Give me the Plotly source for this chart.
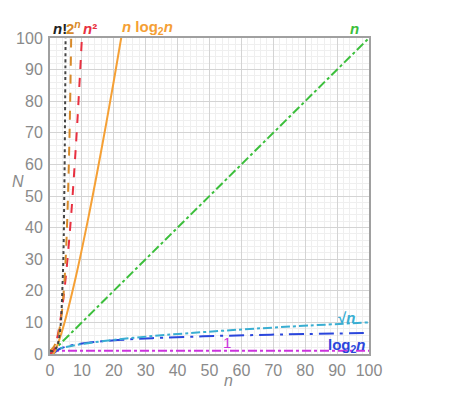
import plotly.graph_objects as go

# Data: sample points (n, N) for each complexity curve
fact_n = [0, 1, 2, 3, 4, 4.5, 5]
fact_N = [1, 1, 2, 6, 24, 52.3, 120]

exp_n = [0, 1, 2, 3, 4, 5, 6, 6.64, 7]
exp_N = [1, 2, 4, 8, 16, 32, 64, 100, 128]

sq_n = [0, 1, 2, 4, 6, 8, 10, 11]
sq_N = [0, 1, 4, 16, 36, 64, 100, 121]

nlog_n = [0, 1, 2, 4, 8, 12, 16, 20, 22.5, 24]
nlog_N = [0, 0, 2, 8, 24, 43.0, 64, 86.4, 101.1, 110.0]

lin_n = [0, 100]
lin_N = [0, 100]

sqrt_n = [0, 1, 4, 9, 16, 25, 36, 49, 64, 81, 100]
sqrt_N = [0, 1, 2, 3, 4, 5, 6, 7, 8, 9, 10]

log_n = [0.6, 1, 2, 3, 4, 6, 8, 12, 16, 24, 32, 48, 64, 80, 100]
log_N = [0, 0, 1, 1.585, 2, 2.585, 3, 3.585, 4, 4.585, 5, 5.585, 6, 6.322, 6.644]

const_n = [0, 100]
const_N = [1, 1]

x_ticks = [0, 10, 20, 30, 40, 50, 60, 70, 80, 90, 100]
y_ticks = [0, 10, 20, 30, 40, 50, 60, 70, 80, 90, 100]

fig = go.Figure()

def add(x, y, color, dash, width=2):
    fig.add_trace(go.Scatter(x=x, y=y, mode="lines", line=dict(color=color, dash=dash, width=width),
                             line_shape="spline", showlegend=False, hoverinfo="skip"))

add(const_n, const_N, "#cc33dd", "dashdot")
add(log_n, log_N, "#2a46dc", "longdashdot")
add(sqrt_n, sqrt_N, "#3aaed2", "dashdot")
add(lin_n, lin_N, "#3cbf3c", "dashdot")
add(nlog_n, nlog_N, "#f5a035", "solid")
add(sq_n, sq_N, "#e83040", "dash")
add(exp_n, exp_N, "#d88a2a", "dash")
add(fact_n, fact_N, "#444444", "dot")

font_fam = "Liberation Sans, Arial, sans-serif"
tick_col = "#8a8a8a"

# page body has an 8px margin, so the figure margins are shifted to compensate
fig.update_layout(
    width=474, height=395,
    margin=dict(l=42, r=113, t=30, b=49),
    paper_bgcolor="white", plot_bgcolor="white",
    font=dict(family=font_fam, size=15, color=tick_col),
    xaxis=dict(range=[0, 100], tickvals=x_ticks, ticks="", showgrid=True, gridcolor="#d4d4d4", gridwidth=1,
               minor=dict(dtick=2, showgrid=True, gridcolor="#efefef", gridwidth=1),
               showline=True, linecolor="#a0a0a0", linewidth=2, mirror=True, zeroline=False,
               automargin=False, ticklabelstandoff=1,
               tickfont=dict(size=16, color=tick_col)),
    yaxis=dict(range=[0, 100], tickvals=y_ticks, ticks="", showgrid=True, gridcolor="#d4d4d4", gridwidth=1,
               minor=dict(dtick=2, showgrid=True, gridcolor="#efefef", gridwidth=1),
               showline=True, linecolor="#a0a0a0", linewidth=2, mirror=True, zeroline=False,
               automargin=False, ticklabelstandoff=2,
               tickfont=dict(size=16, color=tick_col)),
)

# axis titles
fig.add_annotation(x=0.558, y=-0.085, xref="paper", yref="paper", text="<i>n</i>", showarrow=False,
                   font=dict(family=font_fam, size=16, color=tick_col), xanchor="center", yanchor="middle")
fig.add_annotation(x=-0.1, y=0.545, xref="paper", yref="paper", text="<i>N</i>", showarrow=False,
                   font=dict(family=font_fam, size=16, color=tick_col), xanchor="center", yanchor="middle")

def label(x, y, text, color, xanchor="center", yanchor="bottom", size=15):
    fig.add_annotation(x=x, y=y, xref="x", yref="y", text=text, showarrow=False,
                       font=dict(family=font_fam, size=size, color=color),
                       xanchor=xanchor, yanchor=yanchor, borderpad=0)

label(3.0, 100, "<b><i>n</i>!</b>", "#222222")
label(7.4, 100, "<b>2<sup><i>n</i></sup></b>", "#d88a2a")
label(12.6, 100, "<b><i>n</i>²</b>", "#e83040")
label(30.7, 100, "<b><i>n</i> log<sub>2</sub><i>n</i></b>", "#f5a035")
label(95.6, 100, "<b><i>n</i></b>", "#3cbf3c")
label(93, 8.6, "<b>√<i>n</i></b>", "#3aaed2")
label(99.5, 6.1, "<b>log<sub>2</sub><i>n</i></b>", "#2a46dc", xanchor="right", yanchor="top")
label(55.5, 0.6, "1", "#cc33dd")

fig.write_html("out.html")
